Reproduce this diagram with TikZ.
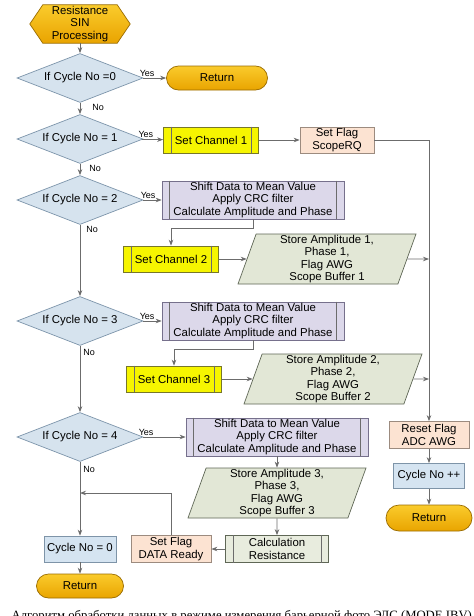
\documentclass[tikz,border=0pt]{standalone}
\usepackage{fontspec}
\setmainfont{Liberation Sans}
\newfontfamily\capfont{Liberation Serif}
\usepackage{xcolor}
\usetikzlibrary{arrows.meta,positioning,shapes.geometric,backgrounds}

\definecolor{linegray}{HTML}{6C6C6C}
\definecolor{goldtop}{HTML}{FACB2C}
\definecolor{goldbot}{HTML}{E9A400}
\definecolor{goldedge}{HTML}{9A6C00}
\definecolor{decfill}{HTML}{D6E3EE}
\definecolor{decedge}{HTML}{7D95AB}
\definecolor{chfill}{HTML}{F6F500}
\definecolor{chedge}{HTML}{77772A}
\definecolor{flagfill}{HTML}{FCE3D2}
\definecolor{flagedge}{HTML}{9C8B7F}
\definecolor{procfill}{HTML}{DCD8EA}
\definecolor{procedge}{HTML}{76708C}
\definecolor{storefill}{HTML}{E2E7D6}
\definecolor{storeedge}{HTML}{5F6756}
\definecolor{cyclefill}{HTML}{D5E4F1}
\definecolor{cycleedge}{HTML}{7E94A8}

\begin{document}
\begin{tikzpicture}[x=1pt,y=-1pt,
    every node/.style={font=\fontsize{11.4}{12.2}\selectfont, align=center, inner sep=0pt, text=black},
    arr/.style={draw=linegray, line width=0.8pt, -{Stealth[length=6pt,width=4.5pt]}},
    link/.style={draw=linegray, line width=0.8pt},
    yes/.style={font=\fontsize{9}{10}\selectfont, inner sep=1pt},
    no/.style={font=\fontsize{9}{10}\selectfont, inner sep=1pt},
    decision/.style={diamond, aspect=2.57, draw=decedge, fill=decfill, line width=0.7pt, minimum width=126pt, minimum height=49pt},
    terminal/.style={rectangle, rounded corners=12pt, draw=goldedge, top color=goldtop, bottom color=goldbot, line width=0.7pt, minimum height=24pt},
    channel/.style={rectangle, draw=chedge, fill=chfill, line width=0.7pt, minimum width=95pt, minimum height=26pt},
    flag/.style={rectangle, draw=flagedge, fill=flagfill, line width=0.7pt, minimum height=27pt},
    proc/.style={rectangle, draw=procedge, fill=procfill, line width=0.7pt, minimum width=182pt, minimum height=38pt},
    store/.style={trapezium, trapezium left angle=69, trapezium right angle=111, trapezium stretches body,
        draw=storeedge, fill=storefill, line width=0.7pt, minimum width=178pt, minimum height=50pt},
    calcbox/.style={rectangle, draw=storeedge, fill=storefill!80!white, line width=0.7pt, minimum width=103pt, minimum height=27pt},
    cyclebox/.style={rectangle, draw=cycleedge, fill=cyclefill, line width=0.7pt, minimum height=26pt},
    subline/.style={draw=linegray, line width=0.7pt}
]
\useasboundingbox (0,0) rectangle (474,616);

% start block
\node[minimum width=100pt, minimum height=38pt] (start) at (80,24) {Resistance\\SIN\\Processing};
\begin{scope}[on background layer]
  \fill[white] (0,0) rectangle (474,616);
  \draw[draw=goldedge, top color=goldtop, bottom color=goldbot, line width=0.7pt]
    (start.west) -- ([xshift=13pt]start.north west) -- ([xshift=-13pt]start.north east)
    -- (start.east) -- ([xshift=-13pt]start.south east) -- ([xshift=13pt]start.south west) -- cycle;
\end{scope}

% decisions on the main line
\node[decision] (d0) at (80,78) {If Cycle No =0};
\node[decision] (d1) at (80,139) {If Cycle No = 1};
\node[decision] (d2) at (80,200) {If Cycle No = 2};
\node[decision] (d3) at (80,321) {If Cycle No = 3};
\node[decision] (d4) at (80,437) {If Cycle No = 4};

\node[terminal, minimum width=101pt] (ret0) at (217,78) {Return};

% cycle 1
\node[channel] (sc1) at (211,140) {Set Channel 1};
\node[flag, minimum width=74pt, minimum height=26pt] (flag1) at (337,140) {Set Flag\\ScopeRQ};

% cycle 2
\node[proc] (shift1) at (253,200) {Shift Data to Mean Value\\Apply CRC filter\\Calculate Amplitude and Phase};
\node[channel] (sc2) at (171,259) {Set Channel 2};
\node[store] (st1) at (327,259) {Store Amplitude 1,\\Phase 1,\\Flag AWG\\Scope Buffer 1};

% cycle 3
\node[proc] (shift2) at (253,321) {Shift Data to Mean Value\\Apply CRC filter\\Calculate Amplitude and Phase};
\node[channel] (sc3) at (174,379) {Set Channel 3};
\node[store] (st2) at (333,379) {Store Amplitude 2,\\Phase 2,\\Flag AWG\\Scope Buffer 2};

% cycle 4
\node[proc] (shift3) at (277,437) {Shift Data to Mean Value\\Apply CRC filter\\Calculate Amplitude and Phase};
\node[store] (st3) at (277,493) {Store Amplitude 3,\\Phase 3,\\Flag AWG\\Scope Buffer 3};
\node[calcbox] (calc) at (277,549) {Calculation\\Resistance};
\node[flag, minimum width=80pt] (dready) at (171,549) {Set Flag\\DATA Ready};

% right column
\node[flag, minimum width=80pt, minimum height=27pt] (reset) at (429,435) {Reset Flag\\ADC AWG};
\node[cyclebox, minimum width=71pt, minimum height=25pt] (cycinc) at (429,476) {Cycle No ++};
\node[terminal, minimum width=86pt, minimum height=26pt, rounded corners=13pt] (ret1) at (429,518) {Return};

% bottom of main line
\node[cyclebox, minimum width=72pt] (cyc0) at (80,549) {Cycle No = 0};
\node[terminal, minimum width=87pt] (ret2) at (80,586) {Return};

% inner bars of the process boxes
\foreach \n in {sc1,sc2,sc3,shift1,shift2,shift3,calc}
  \draw[subline] ([xshift=8pt]\n.north west) -- ([xshift=8pt]\n.south west)
                 ([xshift=-8pt]\n.north east) -- ([xshift=-8pt]\n.south east);

\coordinate (j1) at (429,259);
\coordinate (j2) at (429,379);
\coordinate (j3) at (80,493);

% main line
\draw[arr] (start) -- (d0);
\draw[arr] (d0) -- node[no, at start, anchor=north west, xshift=11pt] {No} (d1);
\draw[arr] (d1) -- node[no, at start, anchor=north west, xshift=8pt] {No} (d2);
\draw[arr] (d2) -- node[no, at start, anchor=north west, xshift=5pt] {No} (d3);
\draw[arr] (d3) -- node[no, at start, anchor=north west, xshift=2pt, yshift=-2pt] {No} (d4);
\draw[arr] (d4) -- node[no, at start, anchor=north west, xshift=2pt, yshift=-3pt] {No} (cyc0);
\draw[arr] (cyc0) -- (ret2);

% yes branches
\draw[arr] (d0) -- node[yes, at start, anchor=south west, xshift=-5pt] {Yes} (ret0);
\draw[arr] (d1) -- node[yes, at start, anchor=south west, xshift=-5pt] {Yes} (sc1);
\draw[arr] (d2) -- node[yes, at start, anchor=south west, xshift=-4pt] {Yes} (shift1);
\draw[arr] (d3) -- node[yes, at start, anchor=south west, xshift=-5pt] {Yes} (shift2);
\draw[arr] (d4) -- node[yes, at start, anchor=south west, xshift=-6pt] {Yes} (shift3);

% cycle links
\draw[arr] (sc1) -- (flag1);
\draw[arr] (flag1.east) -| (reset.north);
\draw[arr] (shift1.south) -- ++(0,9) -| (sc2.north);
\draw[arr] (sc2) -- (st1);
\draw[arr] (st1.east) -- (j1);
\draw[arr] (shift2.south) -- ++(0,9) -| (sc3.north);
\draw[arr] (sc3) -- (st2);
\draw[arr] (st2.east) -- (j2);
\draw[arr] (shift3) -- (st3);
\draw[arr] (st3) -- (calc);
\draw[arr] (calc) -- (dready);
\draw[arr] (dready.north) |- (j3);
\draw[arr] (reset) -- (cycinc);
\draw[arr] (cycinc) -- (ret1);

% caption, cut by the page edge
\node[anchor=base west, font=\capfont\fontsize{12.7}{14}\selectfont] (caption) at (-6,619)
  {5.\hspace{8pt}Алгоритм обработки данных в режиме измерения барьерной фото ЭДС (MODE IBV)};
\end{tikzpicture}
\end{document}
